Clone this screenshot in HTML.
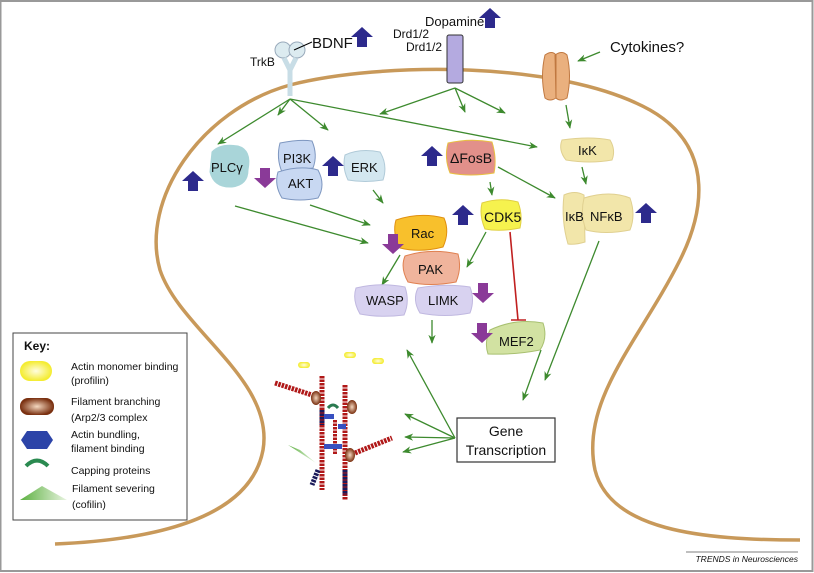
<!DOCTYPE html>
<html><head><meta charset="utf-8"><style>
body{margin:0;background:#fff}
svg{display:block}
text{font-family:"Liberation Sans",Arial,sans-serif;fill:#111}
</style></head><body>
<svg width="814" height="573" viewBox="0 0 814 573" xmlns="http://www.w3.org/2000/svg">
<defs>
<marker id="a" viewBox="0 0 10 10" refX="9" refY="5" markerWidth="7" markerHeight="7" orient="auto"><path d="M0,1 L10,5 L0,9 L3,5z" fill="#3d8a2e"/></marker>
<g id="up"><polygon points="0,-10 11,0 5,0 5,10 -5,10 -5,0 -11,0" fill="#2d2a8c"/></g>
<g id="dn"><polygon points="0,10 11,0 5,0 5,-10 -5,-10 -5,0 -11,0" fill="#8a3a98"/></g>
<radialGradient id="yg"><stop offset="0" stop-color="#fffde0"/><stop offset="1" stop-color="#f4ec30"/></radialGradient>
<radialGradient id="bg"><stop offset="0" stop-color="#f4d8c0"/><stop offset="1" stop-color="#7a3010"/></radialGradient>
<linearGradient id="gg" x1="0" x2="1"><stop offset="0" stop-color="#5cb040"/><stop offset="1" stop-color="#e8f4e0"/></linearGradient>
</defs>
<rect x="0.5" y="1" width="812" height="570" fill="#fff" stroke="#999" stroke-width="2"/>
<path d="M55,544 C150,540 250,520 263,450 C275,380 180,330 160,270 C140,200 200,110 290,85 C380,62 560,60 650,110 C720,150 700,220 680,260 C640,340 580,400 595,470 C610,530 700,540 800,540" fill="none" stroke="#c8995a" stroke-width="3.5"/>
<g fill="#dcebf0" stroke="#9ab" stroke-width="1">
<circle cx="283" cy="50" r="8"/><circle cx="297" cy="50" r="8"/>
<path d="M284,58 L290,70 L296,58 M290,68 L290,96" fill="none" stroke-width="5" stroke="#c8dde6"/>
</g>
<line x1="294" y1="50" x2="312" y2="42" stroke="#000" stroke-width="1"/>
<text x="250" y="66" font-size="12">TrkB</text>
<text x="312" y="48" font-size="15">BDNF</text>
<use href="#up" x="362" y="37"/>
<text x="425" y="26" font-size="13">Dopamine</text>
<use href="#up" x="490" y="18"/>
<text x="393" y="38" font-size="12">Drd1/2</text>
<text x="406" y="51" font-size="12">Drd1/2</text>
<rect x="447" y="35" width="16" height="48" rx="2" fill="#b4aae0" stroke="#333" stroke-width="1"/>
<path d="M545,55 Q552,50 556,55 L556,98 Q550,102 545,98 Q540,76 545,55z M555,55 Q562,50 567,55 Q572,76 567,98 Q560,102 556,98z" fill="#eab07e" stroke="#c07840"/>
<text x="610" y="52" font-size="15">Cytokines?</text>
<g stroke="#3d8a2e" stroke-width="1.3" fill="none" marker-end="url(#a)">
<line x1="600" y1="52" x2="578" y2="61"/>
<line x1="290" y1="99" x2="218" y2="144"/>
<line x1="290" y1="99" x2="278" y2="115"/>
<line x1="290" y1="99" x2="328" y2="130"/>
<line x1="290" y1="99" x2="537" y2="147"/>
<line x1="455" y1="88" x2="380" y2="114"/>
<line x1="455" y1="88" x2="465" y2="112"/>
<line x1="455" y1="88" x2="505" y2="113"/>
<line x1="566" y1="105" x2="570" y2="128"/>
<line x1="235" y1="206" x2="368" y2="243"/>
<line x1="310" y1="205" x2="370" y2="225"/>
<line x1="373" y1="190" x2="383" y2="203"/>
<line x1="490" y1="182" x2="492" y2="195"/>
<line x1="498" y1="167" x2="555" y2="198"/>
<line x1="486" y1="232" x2="467" y2="267"/>
<line x1="400" y1="255" x2="382" y2="285"/>
<line x1="582" y1="167" x2="586" y2="184"/>
<line x1="432" y1="320" x2="432" y2="343"/>
<line x1="599" y1="241" x2="545" y2="380"/>
<line x1="541" y1="350" x2="523" y2="400"/>
<line x1="455" y1="438" x2="407" y2="350"/>
<line x1="455" y1="438" x2="405" y2="414"/>
<line x1="455" y1="438" x2="405" y2="437"/>
<line x1="455" y1="438" x2="403" y2="452"/>
</g>
<path d="M510,232 L518,320 M511,320 L526,320" stroke="#c02020" stroke-width="1.6" fill="none"/>
<path d="M212,152 Q220,143 238,146 Q252,150 248,170 Q248,185 232,187 Q214,188 210,172z" fill="#a9d5d9" stroke="#a9d5d9"/>
<text x="211" y="172" font-size="13">PLCγ</text>
<use href="#up" x="193" y="181"/>
<path d="M280,143 Q300,139 312,141 Q318,155 313,168 L282,172 Q276,158 280,143z" fill="#c8d8f2" stroke="#7e97c0"/>
<text x="283" y="163" font-size="13">PI3K</text>
<path d="M278,172 Q300,165 318,170 Q326,185 318,198 Q300,202 282,198 Q274,185 278,172z" fill="#c8d8f2" stroke="#7e97c0"/>
<text x="288" y="188" font-size="13">AKT</text>
<use href="#dn" x="265" y="178"/>
<path d="M345,155 Q360,148 380,152 Q388,165 383,180 Q365,183 348,180 Q342,168 345,155z" fill="#d3e7f0" stroke="#b0cad8"/>
<text x="351" y="172" font-size="13">ERK</text>
<use href="#up" x="333" y="166"/>
<path d="M448,143 Q470,138 492,142 Q497,158 494,173 Q470,177 450,173 Q444,158 448,143z" fill="#e2908a" stroke="#e8c040"/>
<text x="450" y="163" font-size="14">ΔFosB</text>
<use href="#up" x="432" y="156"/>
<path d="M482,203 Q500,197 518,202 Q523,215 520,228 Q500,232 485,229 Q479,215 482,203z" fill="#f6f24e" stroke="#e0d040"/>
<text x="484" y="222" font-size="14">CDK5</text>
<use href="#up" x="463" y="215"/>
<path d="M396,220 Q420,212 444,218 Q450,232 443,247 Q420,253 400,248 Q392,233 396,220z" fill="#f8c02c" stroke="#e09010"/>
<text x="411" y="238" font-size="13">Rac</text>
<path d="M405,256 Q430,248 458,254 Q462,268 456,282 Q430,287 408,282 Q400,268 405,256z" fill="#f0b49c" stroke="#e08050"/>
<text x="418" y="274" font-size="13">PAK</text>
<use href="#dn" x="393" y="244"/>
<path d="M356,288 Q380,282 405,287 Q410,302 404,315 Q380,318 360,314 Q352,300 356,288z" fill="#d8d2f0" stroke="#c0b8e0"/>
<text x="366" y="305" font-size="13">WASP</text>
<path d="M418,288 Q445,283 470,287 Q475,300 470,313 Q445,318 420,313 Q412,300 418,288z" fill="#d8d2f0" stroke="#c0b8e0"/>
<text x="428" y="305" font-size="13">LIMK</text>
<use href="#dn" x="483" y="293"/>
<path d="M490,330 Q515,318 543,323 Q548,338 540,350 Q515,355 488,354 Q484,342 490,330z" fill="#d2e2a2" stroke="#a8c070"/>
<text x="499" y="346" font-size="13">MEF2</text>
<use href="#dn" x="482" y="333"/>
<path d="M562,140 Q590,136 610,140 Q616,150 612,160 Q590,164 566,160 Q558,150 562,140z" fill="#f2e6aa" stroke="#e0d090"/>
<text x="578" y="155" font-size="13">IκK</text>
<path d="M564,195 Q575,190 584,195 L585,242 Q575,245 568,244 Q561,220 564,195z" fill="#f2e6aa" stroke="#e0d090"/>
<path d="M584,198 Q610,190 630,198 Q636,215 630,230 Q605,235 586,230 Q580,215 584,198z" fill="#f2e6aa" stroke="#e0d090"/>
<text x="565" y="221" font-size="13">IκB</text>
<text x="590" y="221" font-size="13">NFκB</text>
<use href="#up" x="646" y="213"/>
<rect x="457" y="418" width="98" height="44" fill="#fff" stroke="#333" stroke-width="1.2"/>
<text x="506" y="436" font-size="14" text-anchor="middle">Gene</text>
<text x="506" y="455" font-size="14" text-anchor="middle">Transcription</text>
<g stroke-linecap="butt">
<line x1="322" y1="376" x2="322" y2="490" stroke="#b01818" stroke-width="5" stroke-dasharray="2.5 1"/>
<line x1="345" y1="385" x2="345" y2="500" stroke="#b01818" stroke-width="5" stroke-dasharray="2.5 1"/>
<line x1="335" y1="420" x2="335" y2="455" stroke="#b01818" stroke-width="4" stroke-dasharray="2.5 1"/>
<line x1="275" y1="383" x2="312" y2="395" stroke="#b01818" stroke-width="5" stroke-dasharray="2.5 1"/>
<line x1="355" y1="453" x2="392" y2="438" stroke="#b01818" stroke-width="5" stroke-dasharray="2.5 1"/>
<line x1="322" y1="410" x2="322" y2="425" stroke="#1a1a5a" stroke-width="5" stroke-dasharray="2.5 1"/>
<line x1="345" y1="470" x2="345" y2="495" stroke="#1a1a5a" stroke-width="5" stroke-dasharray="2.5 1"/>
<line x1="318" y1="470" x2="312" y2="485" stroke="#1a1a5a" stroke-width="5" stroke-dasharray="2.5 1"/>
<line x1="312" y1="395" x2="318" y2="398" stroke="#1a1a5a" stroke-width="5"/>
</g>
<rect x="324" y="414" width="10" height="5" fill="#3850c0"/>
<rect x="338" y="424" width="8" height="5" fill="#3850c0"/>
<rect x="324" y="444" width="18" height="5" fill="#3850c0"/>
<ellipse cx="316" cy="398" rx="5" ry="7" fill="url(#bg)"/>
<ellipse cx="352" cy="407" rx="5" ry="7" fill="url(#bg)"/>
<ellipse cx="350" cy="455" rx="5" ry="7" fill="url(#bg)"/>
<path d="M328,408 Q333,402 338,408" stroke="#2a7a50" stroke-width="3" fill="none"/>
<polygon points="288,445 300,450 316,463" fill="url(#gg)"/>
<rect x="298" y="362" width="12" height="6" rx="3" fill="url(#yg)"/>
<rect x="344" y="352" width="12" height="6" rx="3" fill="url(#yg)"/>
<rect x="372" y="358" width="12" height="6" rx="3" fill="url(#yg)"/>
<rect x="13" y="333" width="174" height="187" fill="#fff" stroke="#444" stroke-width="1"/>
<text x="24" y="350" font-size="12" font-weight="bold">Key:</text>
<rect x="20" y="361" width="32" height="20" rx="10" fill="url(#yg)"/>
<text x="71" y="370" font-size="10.5">Actin monomer binding</text>
<text x="71" y="384" font-size="10.5">(profilin)</text>
<rect x="20" y="398" width="34" height="17" rx="8" fill="url(#bg)"/>
<text x="71" y="405" font-size="10.5">Filament branching</text>
<text x="71" y="421" font-size="10.5">(Arp2/3 complex</text>
<polygon points="21,440 27,431 47,431 53,440 47,449 27,449" fill="#2c44a8"/>
<text x="71" y="438" font-size="10.5">Actin bundling,</text>
<text x="71" y="452" font-size="10.5">filament binding</text>
<path d="M26,466 Q37,455 48,466" stroke="#2a8a50" stroke-width="4" fill="none"/>
<text x="71" y="474" font-size="10.5">Capping proteins</text>
<polygon points="20,500 42,486 67,500" fill="url(#gg)"/>
<text x="72" y="492" font-size="10.5">Filament severing</text>
<text x="72" y="508" font-size="10.5">(cofilin)</text>
<line x1="686" y1="552" x2="798" y2="552" stroke="#555" stroke-width="0.8"/>
<text x="798" y="562" font-size="8.5" font-style="italic" text-anchor="end">TRENDS in Neurosciences</text>
</svg>
</body></html>
